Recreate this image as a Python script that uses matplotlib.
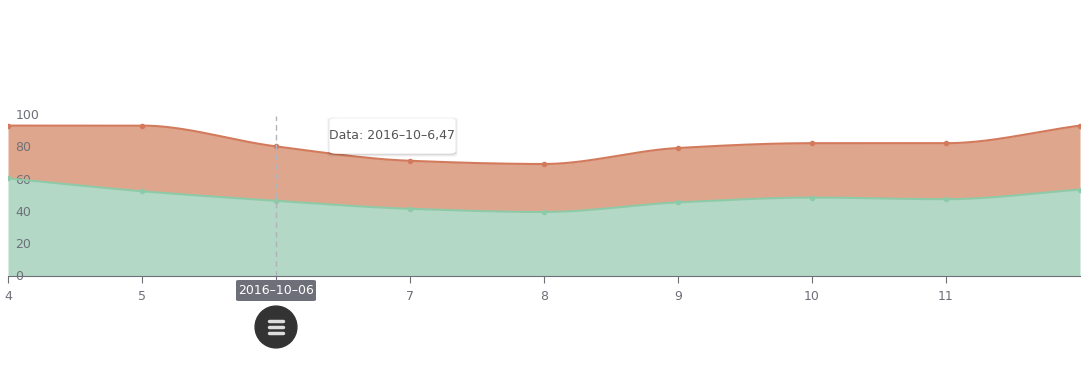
import matplotlib.pyplot as plt
import numpy as np
from matplotlib.patches import FancyBboxPatch, Circle

# data
days = [4, 5, 6, 7, 8, 9, 10, 11, 12]
tick_labels = ['4', '5', '2016-10-06', '7', '8', '9', '10', '11']
series_a = [61, 53, 47, 42, 40, 46, 49, 48, 54]
series_b = [33, 41, 34, 30, 30, 34, 34, 35, 40]
y_ticks = [0, 20, 40, 60, 80, 100]

green_fill = '#b3d8c6'
green_line = '#8dcaa8'
orange_fill = '#dfa68e'
orange_line = '#d27a5b'
grey = '#6e7079'


def monotone(x, y, n=400):
    # Fritsch-Carlson monotone cubic, close to the smooth look of the original
    x = np.asarray(x, float)
    y = np.asarray(y, float)
    h = np.diff(x)
    d = np.diff(y) / h
    m = np.zeros_like(y)
    m[0], m[-1] = d[0], d[-1]
    for i in range(1, len(y) - 1):
        if d[i - 1] * d[i] <= 0:
            m[i] = 0
        else:
            m[i] = 2 / (1 / d[i - 1] + 1 / d[i])
    xs = np.linspace(x[0], x[-1], n)
    ys = np.empty_like(xs)
    for j, xv in enumerate(xs):
        i = min(np.searchsorted(x, xv, side='right') - 1, len(x) - 2)
        t = (xv - x[i]) / h[i]
        h00 = 2 * t**3 - 3 * t**2 + 1
        h10 = t**3 - 2 * t**2 + t
        h01 = -2 * t**3 + 3 * t**2
        h11 = t**3 - t**2
        ys[j] = h00 * y[i] + h10 * h[i] * m[i] + h01 * y[i + 1] + h11 * h[i] * m[i + 1]
    return xs, ys


top = np.array(series_a) + np.array(series_b)

fig = plt.figure(figsize=(10.88, 3.7), dpi=100)
ax = fig.add_axes([8 / 1088, (370 - 276) / 370, 1072 / 1088, 160 / 370])

xs, ya = monotone(days, series_a)
_, yt = monotone(days, top)

ax.fill_between(xs, 0, ya, color=green_fill, lw=0, zorder=1)
ax.fill_between(xs, ya, yt, color=orange_fill, lw=0, zorder=1)
ax.plot(xs, ya, color=green_line, lw=1.5, zorder=3)
ax.plot(xs, yt, color=orange_line, lw=1.5, zorder=3)
ax.scatter(days, series_a, s=9, color=green_line, zorder=4)
ax.scatter(days, top, s=9, color=orange_line, zorder=4)

ax.set_xlim(days[0], days[-1])
ax.set_ylim(0, 100)

for s in ['top', 'right', 'left']:
    ax.spines[s].set_visible(False)
ax.spines['bottom'].set_color(grey)

ax.set_xticks(days[:-1])
ax.set_xticklabels(tick_labels)
ax.tick_params(axis='x', colors=grey, length=5, labelsize=9, pad=5)
ax.get_xticklabels()[2].set_visible(False)

ax.set_yticks(y_ticks)
ax.tick_params(axis='y', length=0, labelsize=9, colors=grey, pad=0)
for lbl in ax.get_yticklabels():
    lbl.set_horizontalalignment('left')
    lbl.set_verticalalignment('center')
    lbl.set_x(0.007)
    lbl.set_zorder(5)

# pointer line at the hovered day
ax.axvline(6, color='#b0b3bc', lw=1, ls=(0, (4, 3)), zorder=5)

# hover tooltip, with a soft shadow
for k, a in enumerate([0.03, 0.05, 0.07]):
    g = 3 - k
    fig.patches.append(FancyBboxPatch(((330 - g) / 1088, (370 - 153 - g - 1) / 370),
                                      (125 + 2 * g) / 1088, (34 + 2 * g) / 370,
                                      boxstyle='round,pad=0,rounding_size=0.006',
                                      transform=fig.transFigure, fc='black', ec='none',
                                      alpha=a, zorder=9))
fig.patches.append(FancyBboxPatch((330 / 1088, (370 - 153) / 370), 125 / 1088, 34 / 370,
                                  boxstyle='round,pad=0,rounding_size=0.006',
                                  transform=fig.transFigure, fc='white', ec='white',
                                  lw=1, zorder=10))
fig.text(392 / 1088, (370 - 136) / 370, 'Data: 2016\u201310\u20136,47', ha='center', va='center',
         fontsize=9, color='#555555', zorder=11)

# axis pointer label
fig.patches.append(FancyBboxPatch((236 / 1088, (370 - 301) / 370), 80 / 1088, 21 / 370,
                                  boxstyle='round,pad=0,rounding_size=0.003',
                                  transform=fig.transFigure, fc=grey, ec='none', zorder=10))
fig.text(276 / 1088, (370 - 291) / 370, '2016\u201310\u201306', ha='center', va='center',
         fontsize=9, color='white', zorder=11)

# drag handle
handle = fig.add_axes([254 / 1088, (370 - 349) / 370, 44 / 1088, 44 / 370])
handle.set_xlim(-1, 1)
handle.set_ylim(-1, 1)
handle.set_aspect('equal')
handle.axis('off')
handle.add_patch(Circle((0, 0), 0.95, color='#333333'))
for yy in (-0.27, 0, 0.27):
    handle.plot([-0.33, 0.33], [yy, yy], color='#dddddd', lw=2.5, solid_capstyle='round')

fig.savefig('out.png', dpi=100)
